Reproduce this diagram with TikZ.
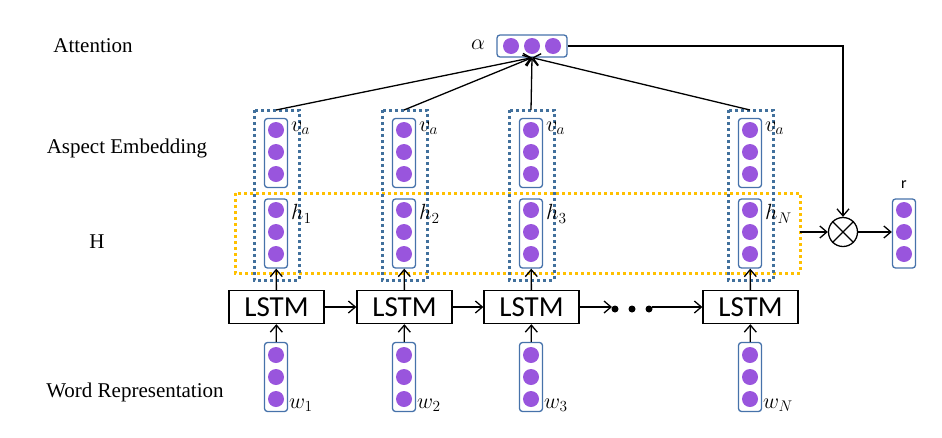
\RequirePackage{fix-cm}
\documentclass[tikz,border=0pt]{standalone}
\usepackage{fontspec}
\setmainfont{Liberation Serif}
\newfontfamily\lstmfont{Carlito}
\usetikzlibrary{arrows.meta}
\definecolor{boxblue}{RGB}{70,114,170}
\definecolor{dotpurple}{RGB}{153,85,221}
\begin{document}
\begin{tikzpicture}[x=1pt,y=-1pt,
  vecbox/.style={draw=boxblue, line width=1.3pt, rounded corners=3pt, minimum width=23pt, minimum height=69pt, inner sep=0pt},
  hvecbox/.style={vecbox, minimum width=70pt, minimum height=22pt},
  dot/.style={circle, fill=dotpurple, minimum size=16pt, inner sep=0pt},
  lstm/.style={draw, line width=1.3pt, minimum width=95pt, minimum height=33pt, inner sep=0pt, font=\lstmfont\fontsize{29}{31}\selectfont},
  arr/.style={-{Straight Barb[length=7pt,width=12pt]}, line width=1.3pt},
  lbl/.style={font=\fontsize{21}{23}\selectfont},
  mlbl/.style={font=\fontsize{22}{24}\selectfont, inner sep=1pt},
  bluedot/.style={draw={rgb,255:red,65;green,112;blue,156}, line width=3pt, dash pattern=on 3pt off 3pt},
  yellowdot/.style={draw={rgb,255:red,255;green,192;blue,0}, line width=3pt, dash pattern=on 3pt off 3pt}]
\useasboundingbox (0,0) rectangle (942,437);
% row labels
\node[lbl] (tatt) at (93,46) {Attention};
\node[lbl] (tasp) at (127,148) {Aspect Embedding};
\node[lbl] (th) at (97,242) {H};
\node[lbl] (tword) at (135,392) {Word Representation};
% H region
\draw[yellowdot] (235,193) rectangle (800,273);
\coordinate (hright) at (800,232);
% columns
\foreach \i/\x/\s in {1/276/1,2/404/2,3/531/3,4/750/N}{
  \draw[bluedot] (\x-22,110) rectangle (\x+23,280);
  \coordinate (top\i) at (\x,110);
  \node[vecbox] (v\i) at (\x,153) {};
  \node[vecbox] (h\i) at (\x,233.5) {};
  \node[vecbox] (w\i) at (\x,377) {};
  \foreach \y in {130,152,174,210,232,254,355,377,399}
    \node[dot] at (\x,\y) {};
  \node[mlbl, anchor=west] at (\x+14,128) {$v_a$};
  \node[mlbl, anchor=west] at (\x+14,214) {$h_{\s}$};
  \node[mlbl, anchor=west] at (\x+12,405) {$w_{\s}$};
  \node[lstm] (l\i) at (\x+0.5,307) {LSTM};
  \draw[arr] (w\i) -- (l\i);
  \draw[arr] (l\i) -- (h\i);
}
% recurrence
\draw[arr] (l1) -- (l2);
\draw[arr] (l2) -- (l3);
\coordinate (dots) at (612,309);
\draw[arr] (l3) -- (l3.east -| dots);
\foreach \d in {0,17,34} \fill (\d+615,309) circle (3.5pt);
\coordinate (dotsend) at (652,309);
\draw[arr] (dotsend |- l4.west) -- (l4);
% attention
\node[hvecbox] (alpha) at (532,46) {};
\foreach \x in {511,532,553} \node[dot] at (\x,46) {};
\node[mlbl] at (478,45) {$\alpha$};
\foreach \i in {1,...,4} \draw[arr] (top\i) -- (alpha.south);
% output
\node[circle, draw, line width=1.3pt, minimum size=29pt, inner sep=0pt] (mul) at (843,232) {};
\draw[line width=1.3pt] (mul.north east) -- (mul.south west) (mul.north west) -- (mul.south east);
\draw[arr] (alpha.east) -- (843,46) -- (mul.north);
\draw[arr] (hright) -- (mul.west);
\node[vecbox] (r) at (904,233.5) {};
\foreach \y in {210,232,254} \node[dot] at (904,\y) {};
\node[font=\lstmfont\fontsize{16}{18}\selectfont] at (904,185) {r};
\draw[arr] (mul.east) -- (mul.east -| r.west);
\end{tikzpicture}
\end{document}
